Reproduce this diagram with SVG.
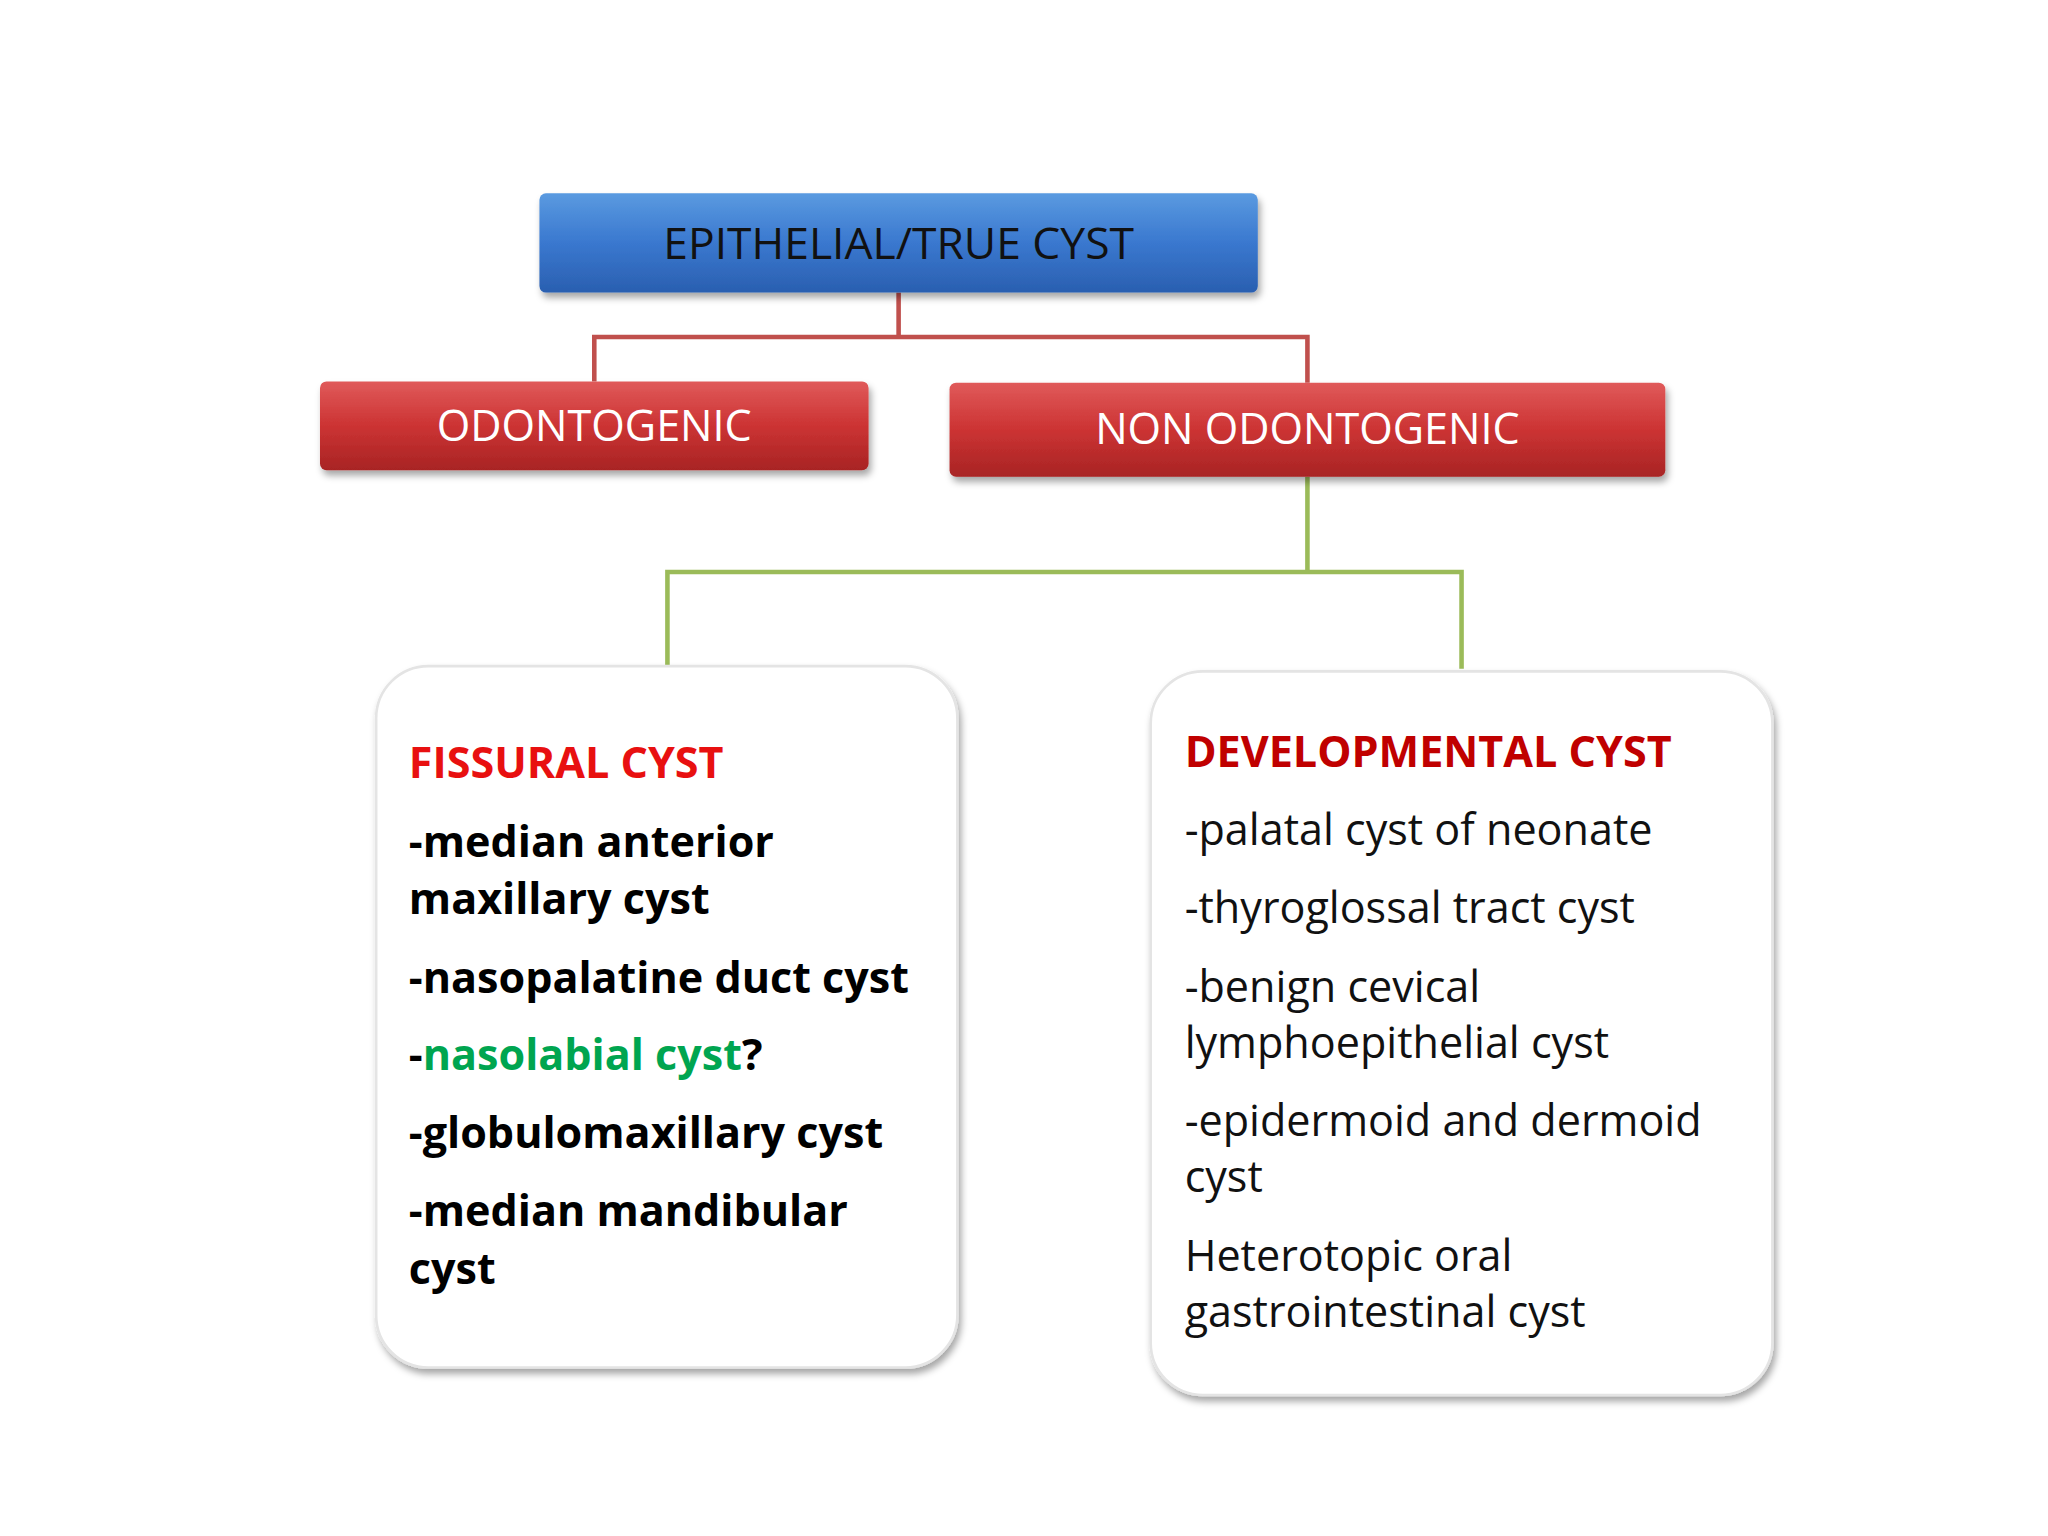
<svg xmlns="http://www.w3.org/2000/svg" width="2048" height="1536" viewBox="0 0 2048 1536">
<defs>
<linearGradient id="gb" x1="0" y1="0" x2="0" y2="1"><stop offset="0" stop-color="#5a9ae0"/><stop offset="0.5" stop-color="#3a78cf"/><stop offset="1" stop-color="#2a5fb0"/></linearGradient>
<linearGradient id="gr" x1="0" y1="0" x2="0" y2="1"><stop offset="0" stop-color="#e05a5a"/><stop offset="0.5" stop-color="#cc3333"/><stop offset="1" stop-color="#a82424"/></linearGradient>
<filter id="sh" x="-10%" y="-10%" width="130%" height="130%"><feDropShadow dx="2" dy="4" stdDeviation="3" flood-color="#000" flood-opacity="0.35"/></filter>
<style>
.t{font-family:"Open Sans","Noto Sans",sans-serif;font-size:34px;}
.b{font-weight:bold;font-size:33px;fill:#000;}
.r{fill:#111;font-size:33px;}
.w{fill:#fff;font-size:33px;}
.c{text-anchor:middle;}
</style>
</defs>
<rect width="2048" height="1536" fill="#fff"/>
<g transform="scale(1.30612)">
<g id="connectors" fill="none" stroke-width="3.5">
<path d="M688 224V258H455V292M688 258H1001V293" stroke="#c0504d"/>
<path d="M1001 365V438H511V510M1001 438H1119V512" stroke="#9bbb59"/>
</g>
<g id="top"><rect x="413" y="148" width="550" height="76" rx="5" fill="url(#gb)" filter="url(#sh)"/>
<text class="t c" x="688" y="198" fill="#111" font-size="36">EPITHELIAL/TRUE CYST</text></g>
<g id="odonto"><rect x="245" y="292" width="420" height="68" rx="5" fill="url(#gr)" filter="url(#sh)"/>
<text class="t w c" x="455" y="338">ODONTOGENIC</text></g>
<g id="nonodonto"><rect x="727" y="293" width="548" height="72" rx="5" fill="url(#gr)" filter="url(#sh)"/>
<text class="t w c" x="1001" y="340">NON ODONTOGENIC</text></g>
<g id="fissural"><rect x="288" y="510" width="445" height="537" rx="40" fill="#fff" stroke="#e4e4e4" stroke-width="2" filter="url(#sh)"/>
<text class="t b" x="313" y="596" fill="#e00000" style="fill:#e81010">FISSURAL CYST</text>
<text class="t b" x="313" y="656">-median anterior</text>
<text class="t b" x="313" y="700">maxillary cyst</text>
<text class="t b" x="313" y="760">-nasopalatine duct cyst</text>
<text class="t b" x="313" y="819">-<tspan fill="#00a550">nasolabial cyst</tspan>?</text>
<text class="t b" x="313" y="879">-globulomaxillary cyst</text>
<text class="t b" x="313" y="939">-median mandibular</text>
<text class="t b" x="313" y="983">cyst</text></g>
<g id="developmental"><rect x="881" y="514" width="476" height="554" rx="40" fill="#fff" stroke="#e4e4e4" stroke-width="2" filter="url(#sh)"/>
<text class="t b" x="907" y="587" style="fill:#c00000">DEVELOPMENTAL CYST</text>
<text class="t r" x="907" y="647">-palatal cyst of neonate</text>
<text class="t r" x="907" y="707">-thyroglossal tract cyst</text>
<text class="t r" x="907" y="767">-benign cevical</text>
<text class="t r" x="907" y="810">lymphoepithelial cyst</text>
<text class="t r" x="907" y="870">-epidermoid and dermoid</text>
<text class="t r" x="907" y="913">cyst</text>
<text class="t r" x="907" y="973">Heterotopic oral</text>
<text class="t r" x="907" y="1016">gastrointestinal cyst</text></g>
</g>
</svg>
